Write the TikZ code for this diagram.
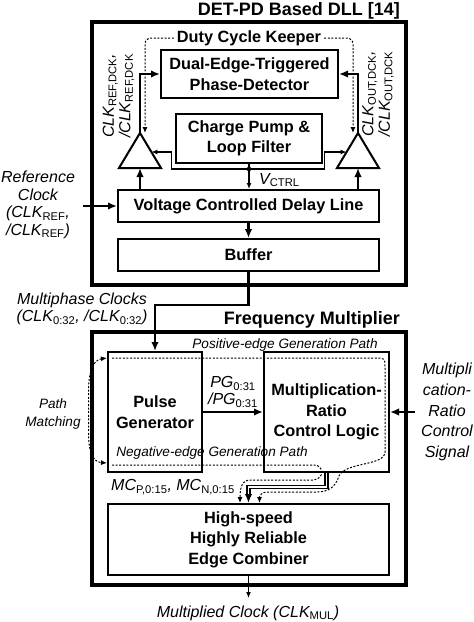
\documentclass[tikz,border=0pt]{standalone}
\usepackage{fontspec}
\setmainfont{Liberation Sans}
\usetikzlibrary{arrows.meta,calc}
\newcommand{\subtxt}[1]{\textsubscript{\upshape #1}}
\tikzset{
  box/.style={draw, line width=2pt, align=center, inner sep=0pt, font=\bfseries\fontsize{16.3}{20.5}\selectfont},
  outerbox/.style={line width=4pt},
  lbl/.style={align=center, inner sep=0pt, font=\itshape\fontsize{16}{17.5}\selectfont},
  smalllbl/.style={align=center, inner sep=0pt, font=\itshape\fontsize{13.6}{17.5}\selectfont},
  titlelbl/.style={inner sep=0pt, font=\bfseries\fontsize{18}{20}\selectfont},
  heavyline/.style={line width=2.6pt},
  thinline/.style={line width=1.4pt},
  dck/.style={line width=1pt, dash pattern=on 2pt off 1.6pt},
  arr/.style={-{Latex[length=9pt,width=7.5pt]}},
  sarr/.style={-{Latex[length=6pt,width=5pt]}},
  barr/.style={{Latex[length=6pt,width=5pt]}-{Latex[length=6pt,width=5pt]}},
}
\begin{document}
\begin{tikzpicture}[x=1pt,y=-1pt]
        \useasboundingbox (0,0) rectangle (474,622);
        % Draw titles and outer frames
        \node[titlelbl, anchor=base east] (dlltitle) at (400,15) {DET-PD Based DLL [14]};
        \node[titlelbl, anchor=base east] (fmtitle) at (400,324) {Frequency Multiplier};
        \draw[outerbox] (92,22) rectangle (406,285);
        \draw[outerbox] (92,332) rectangle (406,585);

        % Draw DLL blocks
        \node[box, minimum width=177pt, minimum height=48pt] (pd) at (249.5,74) {Dual-Edge-Triggered\\Phase-Detector};
        \node[box, minimum width=146pt, minimum height=49pt] (cp) at (249,138.5) {Charge Pump \&\\Loop Filter};
        \node[box, minimum width=261pt, minimum height=32pt] (vcdl) at (248.5,206) {Voltage Controlled Delay Line};
        \node[box, minimum width=261pt, minimum height=32pt] (buf) at (248.5,255) {Buffer};
        \node[font=\bfseries\fontsize{16.3}{20}\selectfont, inner sep=3pt] (dck) at (249,38) {Duty Cycle Keeper};

        % Draw duty cycle keeper buffers
        \foreach \n/\x/\s/\d in {bl/140/11.4/5, br/358/-11.4/-5} {
            \draw[line width=2pt] (\x,133) -- (\x+21,168) -- (\x-21,168) -- cycle;
            \coordinate (\n-top) at (\x,133);
            \coordinate (\n-bot) at (\x,168);
            \coordinate (\n-in) at (\x+\s,152);
            \coordinate (\n-dck) at (\x+\d,133);
            \draw[heavyline,arr] (\n-bot |- vcdl.north) -- (\n-bot);
        }
        \draw[heavyline,arr] (bl-top) |- (pd.west);
        \draw[heavyline,arr] (br-top) |- (pd.east);
        \draw[dck,sarr,rounded corners=6pt] (dck.west) -| (bl-dck);
        \draw[dck,sarr,rounded corners=6pt] (dck.east) -| (br-dck);
        \node[lbl, rotate=90, font=\itshape\fontsize{16}{16.5}\selectfont] (refdck) at (118.5,96) {\textit{CLK}\subtxt{REF,DCK},\\/\textit{CLK}\subtxt{REF,DCK}};
        \node[lbl, rotate=90, font=\itshape\fontsize{16}{16.5}\selectfont] (outdck) at (378,94) {\textit{CLK}\subtxt{OUT,DCK},\\/\textit{CLK}\subtxt{OUT,DCK}};

        % Draw control voltage
        \coordinate (vdot) at ($(cp.south)+(0,5)$);
        \draw[thinline] (cp.south) -- (vdot);
        \fill (vdot) circle (2.3pt);
        \draw[thinline,sarr] (vdot) -- (vdot |- vcdl.north);
        \draw[thinline,sarr] (vdot) -| ([xshift=20pt]bl-in) -- (bl-in);
        \draw[thinline,sarr] (vdot) -| ([xshift=-22pt]br-in) -- (br-in);
        \node[lbl, anchor=west] (vctrl) at (259,180) {V\subtxt{CTRL}};

        % Reference clock and buffer
        \coordinate (refin) at (83,206);
        \draw[heavyline,arr] (refin) -- (vcdl.west);
        \node[lbl] (reflbl) at (38,205) {Reference\\Clock\\(\textit{CLK}\subtxt{REF},\\/\textit{CLK}\subtxt{REF})};
        \draw[heavyline,arr] (vcdl.south) -- (buf.north);

        % Draw frequency multiplier blocks
        \node[box, minimum width=94pt, minimum height=120pt] (pg) at (155,412) {Pulse\\Generator};
        \node[box, minimum width=125pt, minimum height=120pt] (mrcl) at (326.5,412) {Multiplication-\\Ratio\\Control Logic};
        \node[box, minimum width=281pt, minimum height=71pt] (comb) at (248.5,539.5) {High-speed\\Highly Reliable\\Edge Combiner};

        % Multiphase clocks
        \draw[heavyline,arr] (buf.south) -- ++(0,33) -| (pg.north);
        \node[lbl] (mplbl) at (82,309) {Multiphase Clocks\\(\textit{CLK}\subtxt{0:32}, /\textit{CLK}\subtxt{0:32})};

        % Pulses and ratio signal
        \draw[heavyline,arr] (pg.east) -- (mrcl.west);
        \node[lbl] (pglbl) at (233,392) {\textit{PG}\subtxt{0:31}\\/\textit{PG}\subtxt{0:31}};
        \coordinate (mrin) at (415,412);
        \draw[heavyline,arr] (mrin) -- (mrcl.east);
        \node[lbl, font=\itshape\fontsize{16}{20.7}\selectfont] (mrlbl) at (447,412) {Multipli\\cation-\\Ratio\\Control\\Signal};

        % Generation paths (dashed)
        \node[smalllbl] (poslbl) at (285,345) {Positive-edge Generation Path};
        \node[smalllbl] (neglbl) at (212,453) {Negative-edge Generation Path};
        \coordinate (pos-start) at (112,358);
        \coordinate (neg-start) at (112,465);
        \draw[dck,sarr] (pos-start) -- (375,358) .. controls (385,358) .. (385,368) -- (385,452)
            .. controls (385,466) and (345,462) .. (339,476) .. controls (335,488) and (328,492) .. (316,492)
            -- (268,492) .. controls (261,492) and (259.5,496) .. ([xshift=11pt]comb.north);
        \draw[dck,sarr] (neg-start) -- (314,465) .. controls (324,465) and (325,479) .. (313,480)
            -- (250,480) .. controls (242,480) and (240,488) .. ([xshift=-8.5pt]comb.north);

        % Path matching
        \coordinate (pm-top) at (107,358);
        \coordinate (pm-bot) at (107,463);
        \draw[dck,barr] (pm-top) .. controls (92,360) and (88.5,375) .. (88.5,390) -- (88.5,433) .. controls (88.5,450) and (92,462) .. (pm-bot);
        \node[smalllbl] (pmlbl) at (53,414) {Path\\Matching};

        % Match control bus to edge combiner
        \draw[line width=1.6pt, double distance=1.4pt] (mrcl.south) -- ++(0,14) -| ([yshift=7pt]comb.north);
        \draw[heavyline,arr] ([yshift=9pt]comb.north) -- (comb.north);
        \node[lbl] (mclbl) at (173,487) {\textit{MC}\subtxt{P,0:15}, \textit{MC}\subtxt{N,0:15}};

        % Multiplied clock output
        \coordinate (mulout) at (248.5,598);
        \draw[thinline,sarr] (comb.south) -- (mulout);
        \node[lbl] (mullbl) at (248,613) {Multiplied Clock (\textit{CLK}\subtxt{MUL})};
\end{tikzpicture}
\end{document}
